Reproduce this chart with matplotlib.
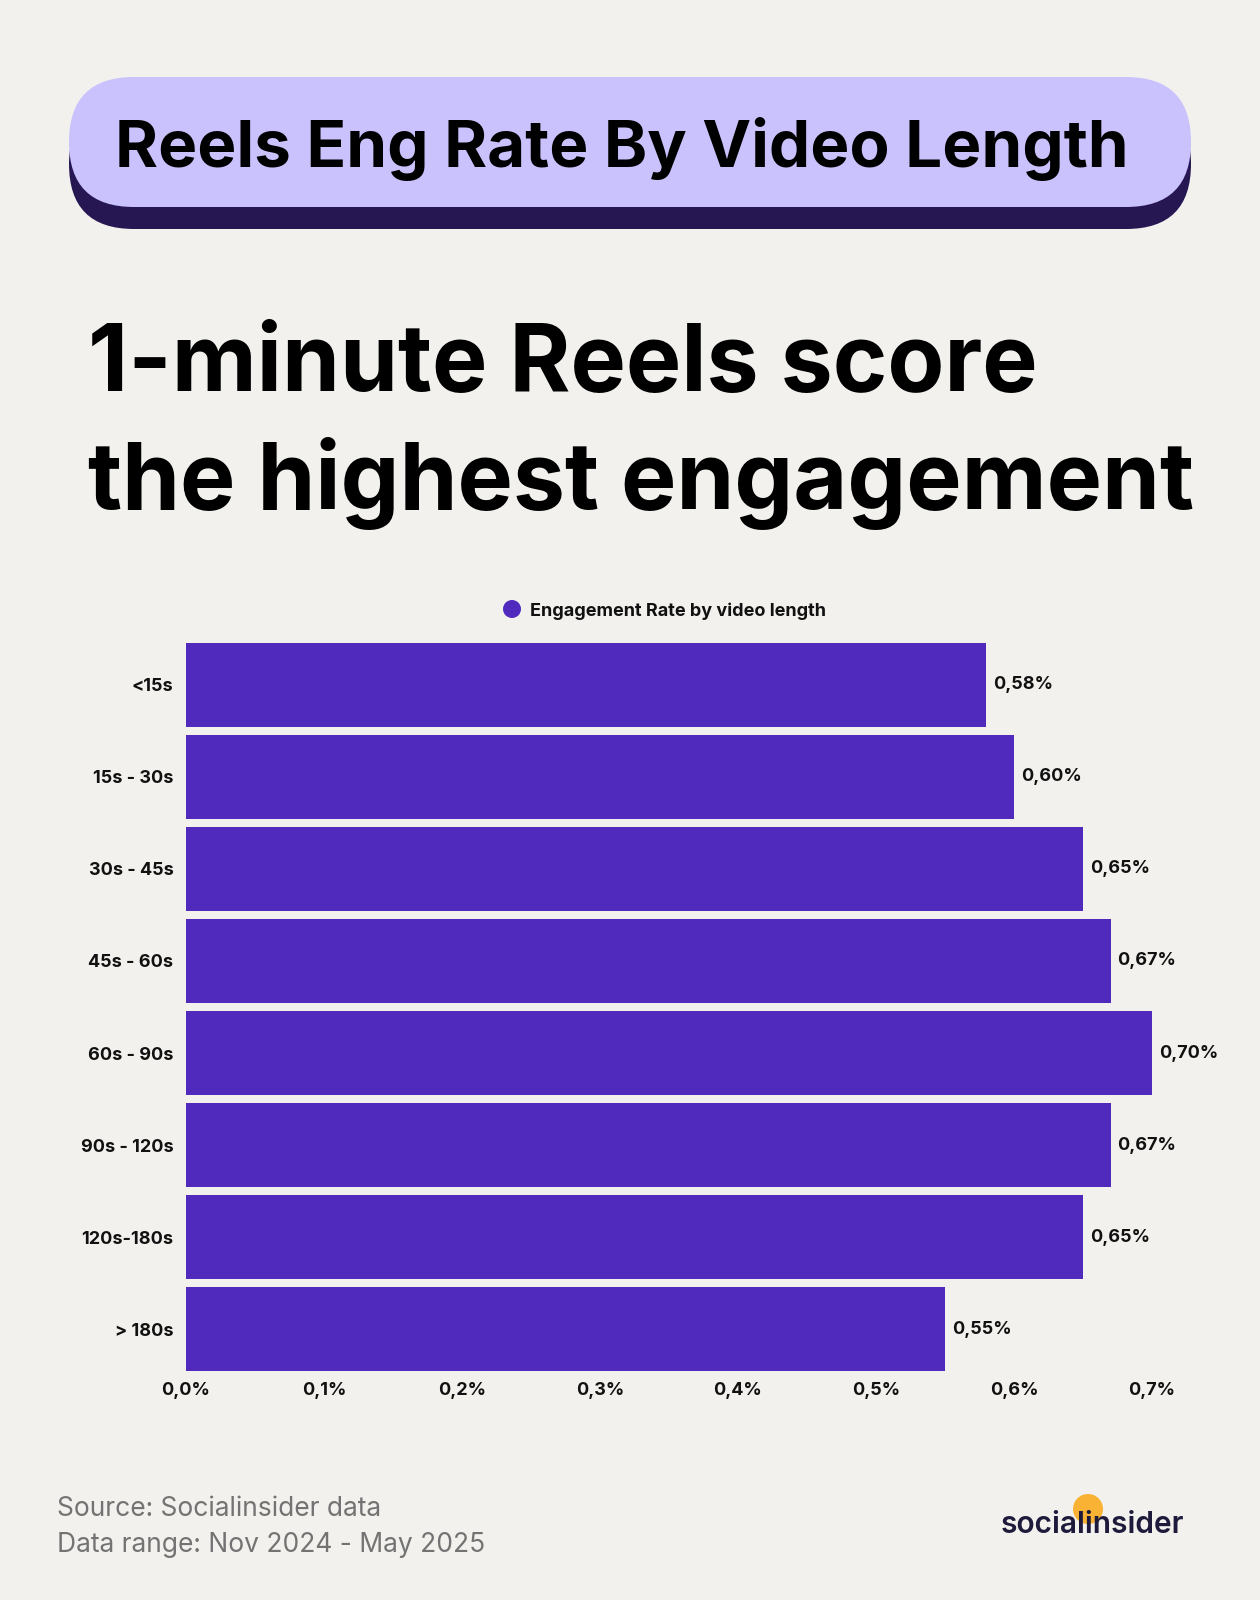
import matplotlib
matplotlib.use("Agg")
import matplotlib.pyplot as plt
from matplotlib.patches import FancyBboxPatch, Circle

plt.rcParams['font.family'] = ['Inter', 'DejaVu Sans']

# data
lengths = ["<15s", "15s - 30s", "30s - 45s", "45s - 60s", "60s - 90s",
           "90s - 120s", "120s-180s", "> 180s"]
eng_rate = [0.58, 0.60, 0.65, 0.67, 0.70, 0.67, 0.65, 0.55]
xticks = [0.0, 0.1, 0.2, 0.3, 0.4, 0.5, 0.6, 0.7]

BG = "#F2F1ED"
BAR = "#4F2ABD"
BAR_H = 0.91

fig = plt.figure(figsize=(12.6, 16), dpi=100, facecolor=BG)

# full-figure overlay in pixel coords for the decorations
deco = fig.add_axes([0, 0, 1, 1], zorder=0)
deco.set_xlim(0, 1260)
deco.set_ylim(1600, 0)
deco.axis("off")

# header pill with dark shadow underneath
deco.add_patch(FancyBboxPatch((69, 99), 1122, 130, boxstyle="round,pad=0,rounding_size=65",
                              fc="#261652", ec="none"))
deco.add_patch(FancyBboxPatch((69, 77), 1122, 130, boxstyle="round,pad=0,rounding_size=65",
                              fc="#C9C2FD", ec="none"))
deco.text(622, 167, "Reels Eng Rate By Video Length", fontsize=47.2, fontweight="bold",
          ha="center", va="baseline", color="black")

# headline
deco.text(88, 391, "1-minute Reels score", fontsize=67, fontweight="bold",
          ha="left", va="baseline", color="black")
deco.text(88, 509, "the highest engagement", fontsize=67, fontweight="bold",
          ha="left", va="baseline", color="black")

# legend
deco.add_patch(Circle((512, 609), 9, fc=BAR, ec="none"))
deco.text(530, 616, "Engagement Rate by video length", fontsize=13, fontweight="bold",
          ha="left", va="baseline", color="#111111")

# footer
deco.text(57, 1516, "Source: Socialinsider data", fontsize=19, color="#737373",
          ha="left", va="baseline")
deco.text(57, 1552, "Data range: Nov 2024 - May 2025", fontsize=19, color="#737373",
          ha="left", va="baseline")

# logo
deco.add_patch(Circle((1088, 1509), 15, fc="#F9B233", ec="none", zorder=2))
deco.text(1001, 1533, "socialinsider", fontsize=21.5, fontweight="semibold", color="#1D1A3B",
          ha="left", va="baseline", zorder=3)

# bar chart
ax = fig.add_axes([186 / 1260, 1 - 1371 / 1600, 966 / 1260, 728 / 1600], zorder=1)
ax.set_facecolor("none")
ypos = list(range(len(lengths)))
bars = ax.barh(ypos, eng_rate, height=BAR_H, color=BAR)
ax.set_ylim(len(lengths) - 1 + BAR_H / 2, -BAR_H / 2)
ax.set_xlim(0, 0.7)

for b, v in zip(bars, eng_rate):
    ax.annotate(f"{v:.2f}%".replace(".", ","), (v, b.get_y() + b.get_height() / 2),
                xytext=(5, 0), textcoords="offset points", ha="left", va="center",
                fontsize=13, fontweight="bold", color="#111111")

ax.set_yticks(ypos)
ax.set_yticklabels(lengths, fontsize=13, fontweight="bold", color="#111111")
ax.set_xticks(xticks)
ax.set_xticklabels([f"{t:.1f}%".replace(".", ",") for t in xticks],
                   fontsize=13, fontweight="bold", color="#111111")
ax.tick_params(axis="both", length=0)
ax.tick_params(axis="y", pad=9)
ax.tick_params(axis="x", pad=8)
for s in ax.spines.values():
    s.set_visible(False)

fig.savefig("out.png", dpi=100, facecolor=BG)
